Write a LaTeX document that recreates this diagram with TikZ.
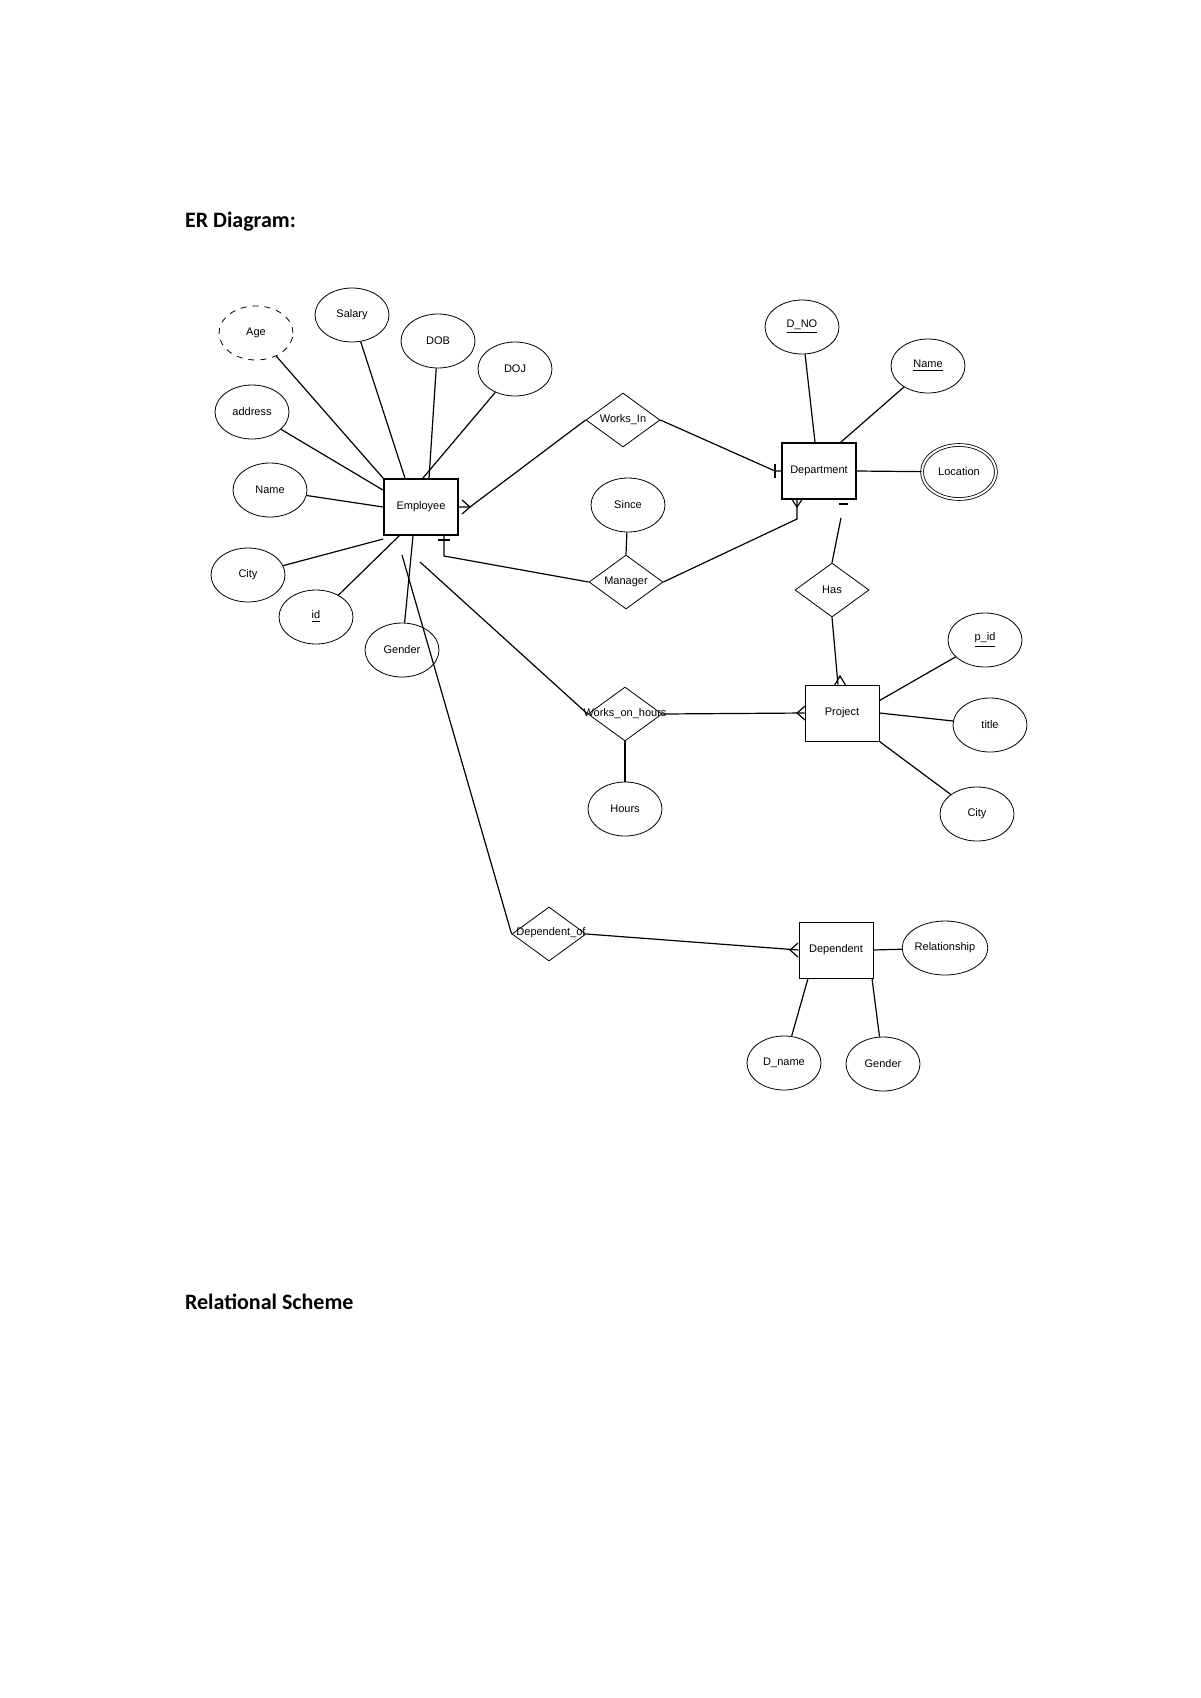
\documentclass[tikz,border=0pt]{standalone}
\usepackage{fontspec}
\setmainfont{Liberation Sans}
\newfontfamily\titlefont{Carlito}
\usetikzlibrary{shapes.geometric}
\begin{document}
\begin{tikzpicture}[x=0.5pt,y=-0.5pt,
  attr/.style={draw,ellipse,minimum width=37pt,minimum height=27pt,inner sep=0pt,font=\fontsize{5.5}{6}\selectfont},
  ent/.style={draw,rectangle,minimum width=37pt,minimum height=28pt,inner sep=0pt,font=\fontsize{5.5}{6}\selectfont},
  rel/.style={draw,diamond,aspect=1.4,minimum width=37pt,minimum height=27pt,inner sep=0pt,font=\fontsize{5.5}{6}\selectfont},
  relw/.style={draw,diamond,aspect=1.4,minimum width=37pt,minimum height=27pt,inner sep=0pt,text width=0pt,font=\fontsize{5.5}{6}\selectfont},
  lbl/.style={font=\fontsize{5.5}{6}\selectfont,inner sep=0pt},
  ln/.style={draw,line width=0.6pt},
  ttl/.style={font=\titlefont\bfseries\fontsize{11}{13}\selectfont,anchor=west}]
\useasboundingbox (0,0) rectangle (1200,1698);
\node[ttl] (t1) at (178,222) {ER Diagram:};
\node[ttl] (t2) at (178,1302) {Relational Scheme};
% entities
\node[ent,thick] (emp) at (421,507) {Employee};
\node[ent,thick] (dep) at (819,471) {Department};
\node[ent] (proj) at (842,713) {Project};
\node[ent] (dpd) at (836,950) {Dependent};
% relationships
\node[rel] (wi) at (623,420) {Works\_In};
\node[rel] (mgr) at (626,582) {Manager};
\node[rel] (has) at (832,590) {Has};
\node[relw] (woh) at (625,714) {};
\node[lbl] (wohl) at (625,714) {Works\_on\_hours};
\node[relw] (dof) at (549,934) {};
\node[lbl] (dofl) at (551,933) {Dependent\_of};
% attributes
\node[attr,dashed] (age) at (256,333) {Age};
\node[attr] (sal) at (352,315) {Salary};
\node[attr] (dob) at (438,341) {DOB};
\node[attr] (doj) at (515,369) {DOJ};
\node[attr] (addr) at (252,412) {address};
\node[attr] (nm) at (270,490) {Name};
\node[attr] (city) at (248,575) {City};
\node[attr] (id) at (316,617) {\underline{id}};
\node[attr] (gen) at (402,650) {Gender};
\node[attr] (since) at (628,505) {Since};
\node[attr] (dno) at (802,327) {\underline{D\_NO}};
\node[attr] (dnm) at (928,366) {\underline{Name}};
\node[attr,double,double distance=1pt] (loc) at (959,472) {Location};
\node[attr] (pid) at (985,640) {\underline{p\_id}};
\node[attr] (tit) at (990,725) {title};
\node[attr] (pcity) at (977,814) {City};
\node[attr] (hrs) at (625,809) {Hours};
\node[attr] (rsh) at (945,948) {Relationship};
\node[attr] (dnam) at (784,1063) {D\_name};
\node[attr] (dgen) at (883,1064) {Gender};
% employee attribute links
\path[ln] (age) -- (emp.north west);
\path[ln] (sal) -- ([xshift=-8]emp.north);
\path[ln] (dob) -- ([xshift=4]emp.north);
\path[ln] (doj) -- ([xshift=-18]emp.north east);
\path[ln] (addr) -- ([yshift=-6]emp.north west);
\path[ln] (nm) -- (emp.west);
\path[ln] (city) -- ([yshift=-16]emp.west);
\path[ln] (id) -- ([xshift=8]emp.south west);
\path[ln] (gen) -- ([xshift=-4]emp.south);
% relationships
\coordinate (e1) at (470,507);
\path[ln] (emp.east) -- (e1) -- (wi.west);
\path[ln] (462,500) -- (470,507) -- (462,514);
\path[ln] (wi.east) -- (775,471) -- (dep.west);
\path[ln] (775,464) -- (775,478);
\coordinate (m1) at (444,556);
\path[ln] (444,534) -- (m1) -- (mgr.west);
\path[ln] (438,540) -- (450,540);
\coordinate (m2) at (797,519);
\path[ln] (mgr.east) -- (m2) -- (797,498);
\path[ln] (791,498) -- (797,507) -- (803,498);
\path[ln] (since) -- (mgr.north);
\path[ln] (dep.south) ++(22,18) -- (has.north);
\path[ln] (839,504) -- (848,504);
\path[ln] (has.south) -- ([xshift=-2]proj.north);
\path[ln] (834,686) -- (840,676) -- (846,686);
\path[ln] (420,562) -- (woh.west);
\path[ln] (woh.east) -- (proj.west);
\path[ln] (805,706) -- (797,713) -- (805,720);
\path[ln] (woh.south) -- (hrs);
\path[ln] (402,555) -- (dof.west);
\path[ln] (dof.east) -- (dpd.west);
\path[ln] (798,943) -- (790,950) -- (798,957);
% other attribute links
\path[ln] (dno) -- ([xshift=-2]dep.north);
\path[ln] (dnm) -- ([xshift=-8]dep.north east);
\path[ln] (loc) -- (dep.east);
\path[ln] (pid) -- ([yshift=-8]proj.north east);
\path[ln] (tit) -- (proj.east);
\path[ln] (pcity) -- (proj.south east);
\path[ln] (rsh) -- (dpd.east);
\path[ln] (dnam) -- ([xshift=-14]dpd.south);
\path[ln] (dgen) -- ([xshift=18]dpd.south);
\end{tikzpicture}
\end{document}
